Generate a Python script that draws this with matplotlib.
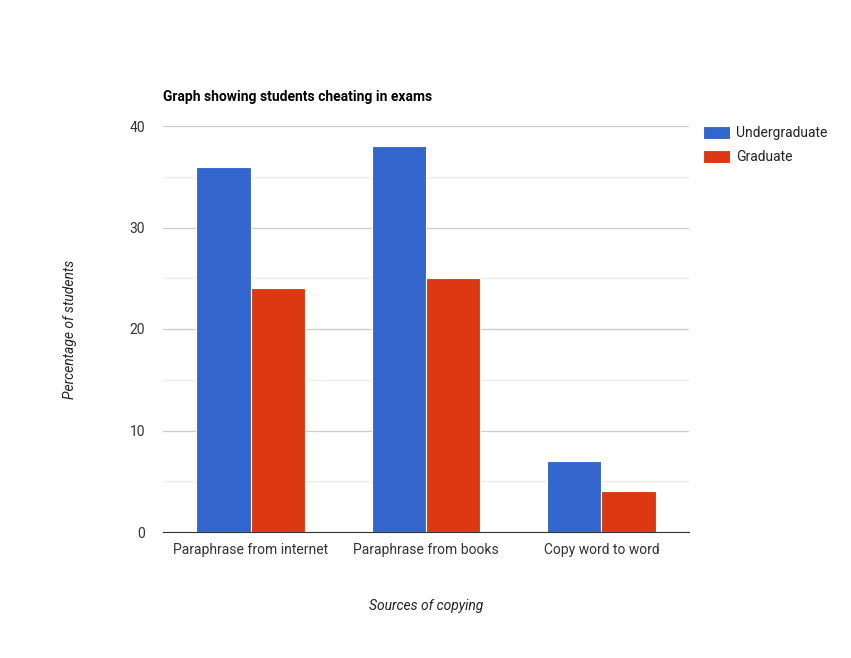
import numpy as np
import matplotlib.pyplot as plt

plt.rcParams['font.family'] = ['Roboto', 'DejaVu Sans']

# data
categories = ['Paraphrase from internet', 'Paraphrase from books', 'Copy word to word']
undergraduate = [36, 38, 7]
graduate = [24, 25, 4]
y_ticks = [0, 10, 20, 30, 40]

fig = plt.figure(figsize=(8.51, 6.58), dpi=100)
ax = fig.add_axes([163 / 851, 126 / 658, 526 / 851, 406 / 658])

x = np.arange(len(categories))
w = 0.31
ax.bar(x - w / 2, undergraduate, w, color='#3366cc', edgecolor='white', linewidth=0.8,
       label='Undergraduate', zorder=3)
ax.bar(x + w / 2, graduate, w, color='#dc3912', edgecolor='white', linewidth=0.8,
       label='Graduate', zorder=3)

ax.set_xlim(-0.5, len(categories) - 0.5)
ax.set_ylim(0, 40)
ax.set_yticks(y_ticks)
ax.set_yticks([5, 15, 25, 35], minor=True)
ax.grid(axis='y', which='major', color='#cccccc', linewidth=0.9, zorder=0)
ax.grid(axis='y', which='minor', color='#ebebeb', linewidth=0.9, zorder=0)
ax.set_xticks(x)
ax.set_xticklabels(categories)
ax.tick_params(axis='both', which='both', length=0, labelsize=10, labelcolor='#333333')
ax.tick_params(axis='y', pad=13)
ax.tick_params(axis='x', pad=8)
for s in ['top', 'right', 'left']:
    ax.spines[s].set_visible(False)
ax.spines['bottom'].set_color('#333333')
ax.spines['bottom'].set_zorder(4)

ax.set_xlabel('Sources of copying', fontsize=10, style='italic', color='#222222', labelpad=30)
ax.set_ylabel('Percentage of students', fontsize=10, style='italic', color='#222222', labelpad=38)
ax.set_title('Graph showing students cheating in exams', fontsize=10, fontweight='bold',
             loc='left', pad=18, color='#000000')

ax.legend(loc='upper left', bbox_to_anchor=(1.002, 1.03), frameon=False, fontsize=10,
          handlelength=2.0, handleheight=1.0, labelspacing=0.7, handletextpad=0.4,
          labelcolor='#222222')

fig.savefig('out.png', dpi=100)
